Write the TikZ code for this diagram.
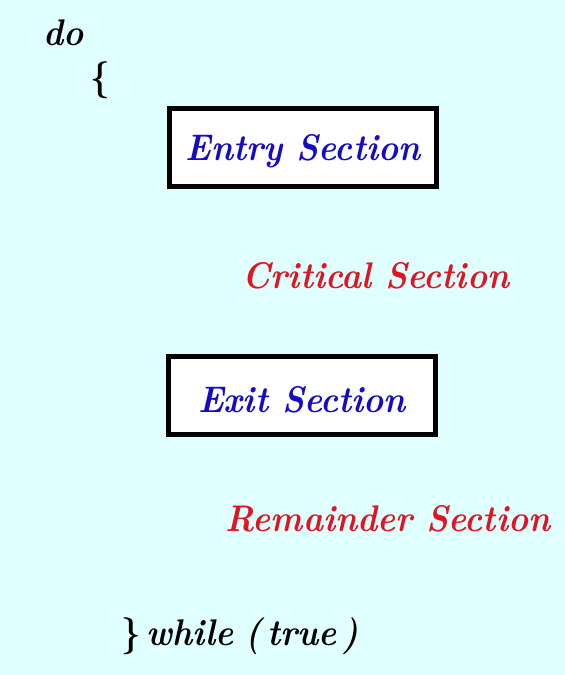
\documentclass[tikz,border=0pt]{standalone}
\usepackage{amsmath}
\usepackage{graphicx}
\usepackage{tikz}
\usetikzlibrary{positioning}

\definecolor{bgcyan}{RGB}{224,255,255}
\definecolor{secblue}{RGB}{20,10,200}
\definecolor{secred}{RGB}{225,20,35}
\newcommand{\codefont}{\fontsize{34}{40}\selectfont\bfseries\itshape}
\newcommand{\tall}[1]{\scalebox{1}[1.09]{#1}}

\begin{document}
\begin{tikzpicture}[x=1pt,y=-1pt,
    code/.style={font=\codefont, inner sep=0pt},
    secbox/.style={code, text=secblue, draw=black, fill=white, line width=5pt,
        minimum width=267pt, minimum height=78pt, text depth=4pt},
    sectext/.style={code, text=secred}]
    \fill[bgcyan] (0,0) rectangle (565,675);
    \useasboundingbox (0,0) rectangle (565,675);

    \node[code, anchor=base west] (do) at (43,45) {\tall{do}};
    \node[code, anchor=base west] (open) at (90,89) {\tall{\textup{\{}}};

    \node[secbox, text height=30pt] (entry) at (303,147) {\tall{Entry Section}};
    \node[sectext, anchor=base] (critical) at (376,288) {\tall{Critical Section}};
    \node[secbox, text height=37pt] (exit) at (302,395.5) {\tall{Exit Section}};
    \node[sectext, anchor=base] (remainder) at (388,531) {\tall{Remainder Section}};

    \node[code, anchor=base west] (while) at (121,645)
        {\tall{\textup{\}}\hspace{6pt}while\hspace{12pt}(\hspace{6pt}true\hspace{6pt})}};
\end{tikzpicture}
\end{document}
